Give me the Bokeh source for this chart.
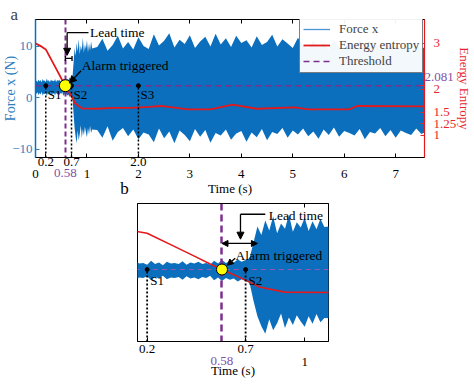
import numpy as np
from bokeh.plotting import figure
from bokeh.models import (LinearAxis, Range1d, FixedTicker, Label, Arrow, Title,
                          NormalHead, TeeHead, Legend, LegendItem, Spacer)
from bokeh.layouts import column, row
from bokeh.core.properties import value
from bokeh.embed import file_html
from bokeh.resources import INLINE

FONT = "Liberation Serif"

# ---------------- data ----------------
# force x envelope (upper / lower peaks), fine sampling 0 .. 1.1 s
t_fine = np.round(np.arange(0, 1.101, 0.02), 2)
force_hi_fine = [2.9, 3.3, 3.0, 3.5, 3.1, 3.4, 2.9, 3.6, 3.2, 3.3,
                 3.0, 3.7, 3.1, 3.4, 2.9, 3.5, 3.2, 3.3, 3.1, 3.6,
                 3.0, 3.4, 3.2, 3.5, 3.1, 3.3, 3.0, 3.7, 3.2, 3.8,
                 3.3, 3.6, 3.4, 3.9, 3.5, 3.8, 4.1,
                 6.8, 9.6, 8.1, 10.6, 8.9, 11.3, 8.4, 10.1, 9.2, 11.6,
                 8.7, 10.3, 9.4, 11.1, 8.8, 10.5, 9.1, 10.9, 9.5]
force_lo_fine = [1.1, 0.7, 1.0, 0.5, 0.9, 0.6, 1.1, 0.4, 0.8, 0.7,
                 1.0, 0.3, 0.9, 0.6, 1.1, 0.5, 0.8, 0.7, 0.9, 0.4,
                 1.0, 0.6, 0.8, 0.5, 0.9, 0.7, 1.1, 0.3, 0.8, 0.2,
                 0.7, 0.4, 0.6, 0.1, 0.5, 0.2, -0.1,
                 -3.2, -5.9, -7.6, -8.9, -6.4, -8.3, -7.1, -5.4, -7.9, -6.1,
                 -7.4, -5.7, -6.8, -7.7, -5.9, -7.2, -5.5, -6.9, -6.2]
# coarse sampling 1.2 .. 7.6 s
t_coarse = np.round(np.arange(1.2, 7.601, 0.1), 2)
force_hi_coarse = [9.8, 11.4, 9.1, 10.2, 12.0, 9.5, 10.8, 9.3, 11.7, 10.0,
                   9.4, 12.3, 10.1, 11.0, 12.5, 9.7, 11.2, 10.4, 12.1, 9.6,
                   10.9, 11.8, 9.9, 12.4, 10.3, 11.5, 9.8, 12.0, 10.6, 11.1,
                   9.7, 11.9, 10.2, 10.8, 12.2, 9.9, 11.3, 10.5, 9.6, 11.6,
                   10.1, 9.4, 11.0, 9.8, 10.6, 9.3, 11.2, 10.0, 9.5, 10.7,
                   9.9, 11.4, 10.3, 9.6, 10.9, 9.2, 10.5, 9.8, 10.1, 9.4,
                   10.6, 9.1, 10.2, 9.5, 9.9]
force_lo_coarse = [-6.3, -7.8, -5.6, -8.4, -6.7, -5.9, -7.5, -6.2, -8.1, -6.8,
                   -7.2, -8.7, -6.0, -7.9, -6.6, -8.9, -6.4, -7.3, -8.5, -6.1,
                   -7.6, -6.3, -8.8, -6.9, -7.4, -6.2, -8.2, -7.0, -6.5, -8.6,
                   -6.8, -7.7, -6.1, -8.3, -6.7, -7.1, -5.9, -7.8, -6.4, -7.2,
                   -6.0, -7.5, -6.6, -8.0, -6.2, -7.3, -5.8, -7.6, -6.5, -6.9,
                   -7.4, -6.1, -8.1, -6.7, -7.0, -5.9, -7.5, -6.3, -7.8, -6.4,
                   -6.9, -7.3, -6.0, -7.1, -6.6]

# energy entropy
ent_t = [0, 0.12, 0.2, 0.33, 0.45, 0.52, 0.58, 0.7, 0.77, 0.9, 1.2, 1.5,
         1.87, 2.2, 2.44, 2.96, 3.4, 3.83, 4.3, 5.04, 5.3, 6.1, 6.25, 7.6]
ent_v = [3.0, 2.93, 2.87, 2.6, 2.35, 2.2, 2.081, 1.85, 1.7, 1.59, 1.58, 1.6,
         1.6, 1.62, 1.64, 1.565, 1.565, 1.67, 1.58, 1.61, 1.565, 1.565, 1.64, 1.63]

threshold = 2.081
threshold_label_pos = 2.28   # label lifted above the "2" tick, as in the original
alarm_t = 0.58
onset_t = 0.76
s_times = [0.2, 0.7, 2.0]
s_labels = ["S1", "S2", "S3"]
panel_b_tag_t = 1.73          # horizontal place of the "b" panel tag

force_ticks = [-10, 0, 10]
ent_ticks = [1, 1.25, 1.5, 2, 3]
time_ticks_a = [0, 1, 2, 3, 4, 5, 6, 7]
time_ticks_b = [1]

BLUE = "#0b6fbd"
BLUE_L = "#4a95d4"
BLUE_T = "#2f7fc0"
RED = "#e3191c"
RED_T = "#e8262e"
PURP = "#7e2f8e"
PURP_T = "#7f4fa8"

t_all = np.concatenate([t_fine, t_coarse])
hi_all = np.array(force_hi_fine + force_hi_coarse)
lo_all = np.array(force_lo_fine + force_lo_coarse)
mid_all = (hi_all + lo_all) / 2


def style_axis(ax, color, size="13px"):
    ax.axis_line_color = color
    ax.major_tick_line_color = color
    ax.minor_tick_line_color = None
    ax.major_tick_in = 4
    ax.major_tick_out = 0
    ax.major_label_text_color = color
    ax.major_label_text_font = FONT
    ax.major_label_text_font_size = size
    ax.axis_label_text_font = FONT
    ax.axis_label_text_font_style = "normal"
    ax.axis_label_text_color = color
    ax.axis_label_text_font_size = size


def bare(ax):
    ax.axis_line_color = None
    ax.major_tick_line_color = None


def time_axes(p, row1, row1_labels, row2, top_ticks, sd1, sd2, sd_lab):
    ax1 = LinearAxis(ticker=FixedTicker(ticks=row1), major_label_overrides=row1_labels)
    style_axis(ax1, "black")
    ax1.major_label_standoff = sd1
    p.add_layout(ax1, "below")
    ax2 = LinearAxis(ticker=FixedTicker(ticks=row2),
                     major_label_overrides={t: f"{t:g}" for t in row2})
    style_axis(ax2, "black")
    bare(ax2)
    ax2.major_label_standoff = sd2
    p.add_layout(ax2, "below")
    ax3 = LinearAxis(ticker=FixedTicker(ticks=[alarm_t]),
                     major_label_overrides={alarm_t: f"{alarm_t:g}"}, axis_label="Time (s)")
    style_axis(ax3, "black")
    bare(ax3)
    ax3.major_label_text_color = PURP_T
    ax3.major_label_standoff = -12
    ax3.axis_label_standoff = sd_lab
    p.add_layout(ax3, "below")
    ax4 = LinearAxis(ticker=FixedTicker(ticks=top_ticks),
                     major_label_overrides={t: "" for t in top_ticks})
    style_axis(ax4, "black")
    ax4.major_label_standoff = 0
    p.add_layout(ax4, "above")


def txt(p, x, y, s, size="13.5px", color="black", align="left", baseline="middle"):
    p.add_layout(Label(x=x, y=y, text=s, text_font=FONT, text_font_size=size,
                       text_color=color, text_align=align, text_baseline=baseline))


def arrow(p, x0, y0, x1, y1, start=None, end=None):
    p.add_layout(Arrow(x_start=x0, y_start=y0, x_end=x1, y_end=y1, start=start, end=end,
                       line_color="black", line_width=1.3))


def head(size=7):
    return NormalHead(size=size, fill_color="black", line_color="black")


# ---------------- panel a ----------------
pa = figure(width=474, height=200, x_range=Range1d(0, 7.56), y_range=Range1d(-11.65, 15.15),
            x_axis_type=None, y_axis_type=None, output_backend="svg", toolbar_location=None,
            min_border_left=32, min_border_right=48, min_border_top=19, min_border_bottom=43)
pa.extra_y_ranges = {"ent": Range1d(0.52, 3.52)}
pa.outline_line_color = "black"
pa.title = Title(text="a", align="left", offset=-25, text_font=FONT, text_font_size="17px",
                 text_font_style="normal", vertical_align="middle", standoff=-10)

ax_l = LinearAxis(ticker=FixedTicker(ticks=force_ticks), axis_label="Force x (N)")
style_axis(ax_l, BLUE_T)
ax_l.axis_line_color = BLUE
ax_l.axis_line_width = 1.5
ax_l.major_label_standoff = 3
ax_l.axis_label_text_font_size = "14px"
ax_l.axis_label_standoff = -9
pa.add_layout(ax_l, "left")

ax_r = LinearAxis(y_range_name="ent", ticker=FixedTicker(ticks=ent_ticks + [threshold]),
                  major_label_overrides={**{t: f"{t:g}" for t in ent_ticks}, threshold: ""})
style_axis(ax_r, RED_T)
ax_r.axis_line_color = RED
ax_r.axis_line_width = 1.2
ax_r.major_label_standoff = 9
pa.add_layout(ax_r, "right")
ax_r2 = LinearAxis(y_range_name="ent", ticker=FixedTicker(ticks=[threshold_label_pos]),
                   major_label_overrides={threshold_label_pos: f"{threshold:g}"},
                   axis_label="Energy Entropy")
style_axis(ax_r2, PURP_T)
bare(ax_r2)
ax_r2.major_label_standoff = -35
ax_r2.axis_label_text_color = RED_T
ax_r2.axis_label_standoff = 0
pa.add_layout(ax_r2, "right")

row1_a = s_times[:2] + [t for t in time_ticks_a if t > 0]
row1_lab_a = {t: "" for t in row1_a}
for t in s_times:
    row1_lab_a[t] = f"{t:.1f}"
time_axes(pa, row1_a, row1_lab_a, time_ticks_a, time_ticks_a, 0, 1, 1)
ax_tag = LinearAxis(ticker=FixedTicker(ticks=[panel_b_tag_t]),
                    major_label_overrides={panel_b_tag_t: "b"})
style_axis(ax_tag, "black", size="17px")
bare(ax_tag)
ax_tag.major_label_standoff = -20
pa.add_layout(ax_tag, "below")

force_line = pa.line(t_all, mid_all, line_color=BLUE_L, line_width=1.3)
pa.varea(x=t_all, y1=lo_all, y2=hi_all, fill_color=BLUE)
ent_line = pa.line(ent_t, ent_v, y_range_name="ent", line_color=RED, line_width=1.8)
thr_line = pa.line([t_all[0], t_all[-1]], [threshold, threshold], y_range_name="ent",
                   line_color=PURP, line_dash="6 4", line_width=1.5)
pa.vspan(x=[alarm_t], line_color=PURP, line_dash="5 3", line_width=2)
pa.segment(x0=s_times, y0=[0.52] * 3, x1=s_times, y1=[threshold] * 3, y_range_name="ent",
           line_color="black", line_dash="2 2", line_width=1.5)
pa.scatter(s_times, [threshold] * 3, y_range_name="ent", size=4, color="black")
pa.text(x=s_times, y=[threshold] * 3, text=s_labels, y_range_name="ent", x_offset=2, y_offset=9,
        text_font=value(FONT), text_font_size="13px", text_baseline="middle")
pa.scatter([alarm_t], [threshold], y_range_name="ent", size=12, fill_color="#ffff00",
           line_color="black", line_width=1)

# annotations a
txt(pa, 1.06, 12.6, "Lead time")
arrow(pa, 1.03, 12.6, 0.615, 12.6)
arrow(pa, 0.615, 12.6, 0.615, 8.2, end=head(7))
arrow(pa, alarm_t, 7.6, 0.71, 7.6, start=TeeHead(size=5, line_width=1.3),
      end=TeeHead(size=5, line_width=1.3))
txt(pa, 0.9, 6.2, "Alarm triggered")
arrow(pa, 0.885, 5.2, 0.66, 2.8, end=head(7))

pa.add_layout(Legend(items=[LegendItem(label="Force x", renderers=[force_line]),
                            LegendItem(label="Energy entropy", renderers=[ent_line]),
                            LegendItem(label="Threshold", renderers=[thr_line])],
                     location=(264, 84), label_text_font=FONT, label_text_font_size="13px",
                     glyph_width=27, glyph_height=12, label_height=12, label_standoff=9,
                     spacing=0, padding=3, margin=0, border_line_color="black",
                     border_line_width=1))

# ---------------- panel b ----------------
pb = figure(width=243, height=186, x_range=Range1d(0.151, 1.121), y_range=Range1d(-10.24, 13.55),
            x_axis_type=None, y_axis_type=None, output_backend="svg", toolbar_location=None,
            min_border_left=32, min_border_right=20, min_border_top=3, min_border_bottom=45)
pb.extra_y_ranges = {"ent": Range1d(0.516, 3.516)}
pb.outline_line_color = "black"

row1_b = s_times[:2] + time_ticks_b
row1_lab_b = {t: "" for t in row1_b}
for t in s_times[:2]:
    row1_lab_b[t] = f"{t:.1f}"
time_axes(pb, row1_b, row1_lab_b, time_ticks_b, time_ticks_b, 3, 2, -5)

pb.varea(x=t_all, y1=lo_all, y2=hi_all, fill_color=BLUE)
pb.line(ent_t, ent_v, y_range_name="ent", line_color=RED, line_width=1.6)
pb.line([t_all[0], t_all[-1]], [threshold, threshold], y_range_name="ent",
        line_color="#9a55b0", line_dash="5 4", line_width=1.2)
pb.vspan(x=[alarm_t], line_color=PURP, line_dash="7 4", line_width=2.5)
pb.segment(x0=s_times[:2], y0=[0.516] * 2, x1=s_times[:2], y1=[threshold] * 2, y_range_name="ent",
           line_color="black", line_dash="2 2", line_width=1.8)
pb.scatter(s_times[:2], [threshold] * 2, y_range_name="ent", size=4, color="black")
pb.text(x=s_times[:2], y=[threshold] * 2, text=s_labels[:2], y_range_name="ent", x_offset=3,
        y_offset=11, text_font=value(FONT), text_font_size="13px", text_baseline="middle")
pb.scatter([alarm_t], [threshold], y_range_name="ent", size=11, fill_color="#ffff00",
           line_color="black", line_width=1)

txt(pb, 0.817, 11.5, "Lead time")
arrow(pb, 0.80, 11.7, 0.674, 11.7)
arrow(pb, 0.674, 11.7, 0.674, 7.4, end=head(7))
arrow(pb, alarm_t, 6.66, onset_t, 6.66, start=head(6), end=head(6))
txt(pb, 0.649, 4.6, "Alarm triggered")
arrow(pb, 0.647, 4.1, 0.607, 2.9, end=head(6))

layout = column(pa, row(Spacer(width=105, height=186), pb))

open("out.html", "w").write(file_html(layout, INLINE))
